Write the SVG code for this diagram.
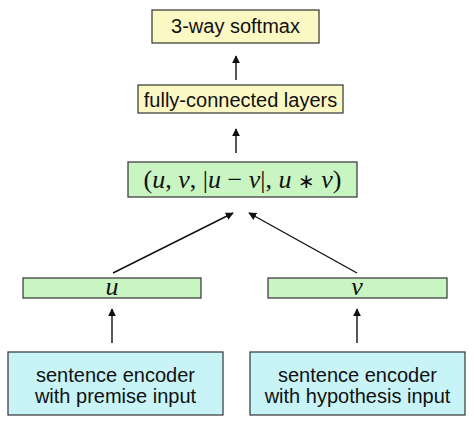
<svg xmlns="http://www.w3.org/2000/svg" width="474" height="424" viewBox="0 0 474 424">
<defs>
<style>
.box{stroke:#333;stroke-width:1.2}
.y{fill:#fbf8c4}
.g{fill:#c9f5c2}
.c{fill:#c8f4f8}
.t{font-family:"Liberation Sans",Arial,sans-serif;font-size:20px;fill:#111;text-anchor:middle}
.m{font-family:"Liberation Serif","Times New Roman",serif;font-style:italic;font-size:26px;fill:#111;text-anchor:middle}
.mu{font-family:"Liberation Serif","Times New Roman",serif;font-size:26px;fill:#111}
.conn{stroke:#111;stroke-width:1.4;fill:none;marker-end:url(#ah)}
</style>
<marker id="ah" viewBox="0 0 10 10" refX="9" refY="5" markerWidth="8" markerHeight="8" orient="auto" markerUnits="userSpaceOnUse">
<path d="M0,0 L10,5 L0,10 z" fill="#111"/>
</marker>
</defs>
<rect width="474" height="424" fill="#fff"/>
<g id="connectors">
<line class="conn" x1="236" y1="80" x2="236" y2="56"/>
<line class="conn" x1="236" y1="153" x2="236" y2="129"/>
<line class="conn" x1="113" y1="273" x2="233" y2="213"/>
<line class="conn" x1="357" y1="273" x2="249" y2="213"/>
<line class="conn" x1="112" y1="343" x2="112" y2="309"/>
<line class="conn" x1="357" y1="343" x2="357" y2="309"/>
</g>
<g id="softmax">
<rect class="box y" x="152" y="10" width="167" height="33"/>
<text class="t" x="235.5" y="33">3-way softmax</text>
</g>
<g id="fc">
<rect class="box y" x="138" y="85" width="205" height="28"/>
<text class="t" x="240.5" y="107">fully-connected layers</text>
</g>
<g id="combined">
<rect class="box g" x="128" y="162" width="229" height="35"/>
<text class="mu" x="242.5" y="188" text-anchor="middle">(<tspan font-style="italic">u</tspan>, <tspan font-style="italic">v</tspan>, |<tspan font-style="italic">u</tspan> − <tspan font-style="italic">v</tspan>|, <tspan font-style="italic">u</tspan> <tspan font-family="DejaVu Sans, sans-serif" font-size="20">∗</tspan> <tspan font-style="italic">v</tspan>)</text>
</g>
<g id="u">
<rect class="box g" x="23" y="278" width="178" height="20"/>
<text class="m" x="112" y="295">u</text>
</g>
<g id="v">
<rect class="box g" x="268" y="278" width="179" height="20"/>
<text class="m" x="357" y="295">v</text>
</g>
<g id="premise">
<rect class="box c" x="8" y="352" width="215" height="63"/>
<text class="t" x="115.5" y="382">sentence encoder</text>
<text class="t" x="115.5" y="403">with premise input</text>
</g>
<g id="hypothesis">
<rect class="box c" x="250" y="352" width="215" height="63"/>
<text class="t" x="357.5" y="382">sentence encoder</text>
<text class="t" x="357.5" y="403">with hypothesis input</text>
</g>
</svg>
